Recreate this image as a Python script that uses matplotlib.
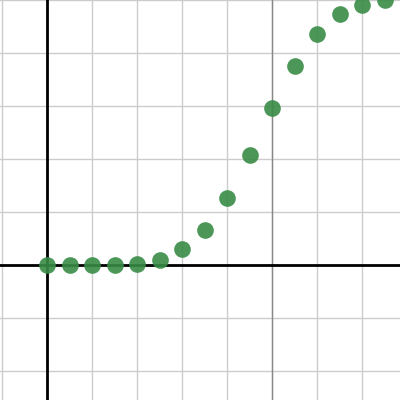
import matplotlib
matplotlib.use("Agg")
import matplotlib.pyplot as plt

xs = [0, 0.5, 1, 1.5, 2, 2.5, 3, 3.5, 4, 4.5, 5, 5.5, 6, 6.5, 7, 7.5]
ys = [0, 0, 0, 0, 0.02, 0.09, 0.30, 0.66, 1.26, 2.08, 2.96, 3.75, 4.36, 4.74, 4.91, 5.0]

fig = plt.figure(figsize=(4, 4), dpi=100)
ax = fig.add_axes([0, 0, 1, 1])
ax.set_xlim(-1.044, 7.84)
ax.set_ylim(-2.55, 5.0)
for gx in range(-1, 8):
    ax.axvline(gx, color="#cccccc", lw=1, zorder=0)
for gy in range(-2, 6):
    ax.axhline(gy, color="#cccccc", lw=1, zorder=0)
ax.axvline(5, color="#888888", lw=1, zorder=0)
ax.axvline(0, color="black", lw=2, zorder=1)
ax.axhline(0, color="black", lw=2, zorder=1)
ax.plot(xs, ys, "o", color="#388c46", ms=12, alpha=0.9, mec="none", zorder=3, clip_on=False)
ax.axis("off")
fig.savefig("out.png", dpi=100)
